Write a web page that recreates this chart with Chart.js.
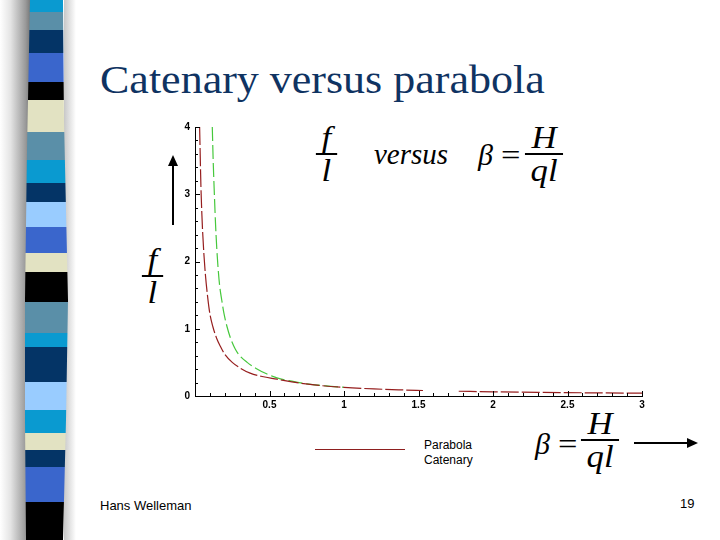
<!DOCTYPE html>
<html>
<head>
<meta charset="utf-8">
<script src="https://cdn.jsdelivr.net/npm/chart.js@4"></script>
<style>
  body { margin: 0; width: 720px; height: 540px; background: #fff; position: relative; overflow: hidden; }
  .abs { position: absolute; }
  #shadowL { left: 0; top: 0; width: 30px; height: 540px; background: linear-gradient(to right, #fff 0%, #e4e4e4 35%, #9a9a9a 85%, #7a7a7a 100%); }
  #shadowR { left: 64px; top: 0; width: 12px; height: 540px; background: linear-gradient(to right, #c8c8c8, #fff); }
  #stripe {
    left: 24px; top: 0; width: 46px; height: 540px;
    clip-path: polygon(6px 0, 39px 0, 40px 120px, 44px 300px, 42px 420px, 39px 540px, 2px 540px, 1px 420px, 1px 300px, 3px 150px);
    background: linear-gradient(to bottom,
      #0a9ad0 0 12px, #5a8fa8 12px 30px, #043466 30px 53px, #3a66cc 53px 82px, #000 82px 100px,
      #e2e2c2 100px 132px, #5a8fa8 132px 160px, #0a9ad0 160px 183px, #043466 183px 202px, #99ccff 202px 227px,
      #3a66cc 227px 253px, #e2e2c2 253px 272px, #000 272px 302px, #5a8fa8 302px 333px, #0a9ad0 333px 347px,
      #043466 347px 382px, #99ccff 382px 410px, #0a9ad0 410px 433px, #e2e2c2 433px 450px, #043466 450px 467px,
      #3a66cc 467px 502px, #000 502px 540px);
  }
  #title { left: 100px; top: 56px; font: 40px "Liberation Serif", serif; color: #0f3362; white-space: nowrap; transform: scaleX(1.1); transform-origin: 0 0; }
  .frac { position: absolute; display: flex; flex-direction: column; align-items: center; font: italic 31px "Liberation Serif", serif; color: #000; transform: scaleX(1.12); transform-origin: 50% 50%; }
  .frac span { line-height: 31px; height: 31px; padding: 0 5px; }
  .frac .bar { height: 1.5px; background: #000; align-self: stretch; }
  .txt { position: absolute; font: italic 30px "Liberation Serif", serif; white-space: nowrap; line-height: 31px; }
  .eq { position: absolute; font: 30px "Liberation Serif", serif; line-height: 31px; transform: scaleX(1.15); transform-origin: 0 50%; }
  #chartBox { left: 170px; top: 115px; }
  #legend { left: 315px; top: 438px; font: 12px "Liberation Sans", Arial, sans-serif; }
  #legendLine { position: absolute; left: 0; top: 11px; width: 90px; height: 1px; background: #8e1f1f; }
  #legendText { position: absolute; left: 109px; top: 0; line-height: 15px; white-space: nowrap; }
  #author { left: 100px; top: 498px; font: 13px "Liberation Sans", Arial, sans-serif; }
  #page { left: 680px; top: 496px; font: 13px "Liberation Sans", Arial, sans-serif; }
  .arrow { position: absolute; background: #000; }
</style>
</head>
<body>
<div id="shadowL" class="abs"></div>
<div id="shadowR" class="abs"></div>
<div id="stripe" class="abs"></div>
<div id="title" class="abs">Catenary versus parabola</div>

<!-- top formula -->
<div class="frac" style="left:317px; top:122px;"><span>f</span><div class="bar"></div><span>l</span></div>
<div class="txt" style="left:374px; top:139px; font-size:29px;">versus</div>
<div class="txt" style="left:478px; top:139px;">β</div>
<div class="eq" style="left:501px; top:139px;">=</div>
<div class="frac" style="left:527px; top:122px;"><span>H</span><div class="bar"></div><span>ql</span></div>

<!-- y label -->
<div class="frac" style="left:143px; top:244px;"><span>f</span><div class="bar"></div><span>l</span></div>
<div class="arrow" style="left:172px; top:166px; width:2px; height:59px;"></div>
<div class="abs" style="left:168px; top:155px; width:0; height:0; border-left:5px solid transparent; border-right:5px solid transparent; border-bottom:11px solid #000;"></div>

<!-- x label -->
<div class="txt" style="left:535px; top:428px;">β</div>
<div class="eq" style="left:558px; top:428px;">=</div>
<div class="frac" style="left:583px; top:408px;"><span>H</span><div class="bar"></div><span>ql</span></div>
<div class="arrow" style="left:634px; top:442px; width:55px; height:2px;"></div>
<div class="abs" style="left:687px; top:438px; width:0; height:0; border-top:5px solid transparent; border-bottom:5px solid transparent; border-left:11px solid #000;"></div>

<div id="chartBox" class="abs"><canvas id="chart" width="490" height="300"></canvas></div>

<div id="legend" class="abs"><div id="legendLine"></div><div id="legendText"></div></div>
<div id="author" class="abs">Hans Welleman</div>
<div id="page" class="abs">19</div>

<script>
// series names
const seriesNames = ['Parabola', 'Catenary'];

// parabola: beta = H/(ql) and f/l (null = gap in the plotted line)
const betaParabola = [0.031, 0.04, 0.05, 0.06, 0.07, 0.085, 0.1, 0.12, 0.145, 0.17, 0.2, 0.25, 0.3, 0.37, 0.45, 0.55, 0.65, 0.8, 1.0, 1.2, 1.4, 1.53, 1.65, 1.77, 2.0, 2.3, 2.6, 3.0];
const ratioParabola = [4.0, 3.1, 2.5, 2.1, 1.8, 1.47, 1.22, 1.03, 0.86, 0.74, 0.62, 0.5, 0.42, 0.34, 0.29, 0.25, 0.21, 0.165, 0.128, 0.105, 0.09, 0.082, null, 0.071, 0.062, 0.054, 0.048, 0.042];

// catenary
const betaCatenary = [0.116, 0.122, 0.13, 0.138, 0.146, 0.155, 0.165, 0.18, 0.195, 0.215, 0.24, 0.27, 0.3, 0.35, 0.41, 0.48, 0.55, 0.65, 0.75, 0.88, 1.0];
const ratioCatenary = [4.0, 3.5, 3.0, 2.55, 2.2, 1.9, 1.65, 1.42, 1.22, 1.03, 0.85, 0.7, 0.6, 0.5, 0.41, 0.33, 0.27, 0.22, 0.18, 0.15, 0.13];

// axis ranges
const xMin = 0, xMax = 3, xStep = 0.1;
const yMin = 0, yMax = 4, yStep = 0.2;

const toPoints = (xs, ys) => xs.map((x, i) => ({ x: x, y: ys[i] }));

document.getElementById('legendText').innerHTML = seriesNames.join('<br>');

// small tick marks drawn inside the plot, like the original
const innerTicks = {
  id: 'innerTicks',
  afterDraw(chart) {
    const { ctx, chartArea } = chart;
    const { x, y } = chart.scales;
    ctx.save();
    ctx.strokeStyle = '#000';
    ctx.lineWidth = 1;
    ctx.beginPath();
    x.ticks.forEach(t => {
      const px = Math.round(x.getPixelForValue(t.value)) + 0.5;
      ctx.moveTo(px, chartArea.bottom);
      ctx.lineTo(px, chartArea.bottom - (t.label ? 5 : 3));
    });
    y.ticks.forEach(t => {
      const py = Math.round(y.getPixelForValue(t.value)) + 0.5;
      ctx.moveTo(chartArea.left, py);
      ctx.lineTo(chartArea.left + (t.label ? 5 : 3), py);
    });
    ctx.stroke();
    ctx.restore();
  }
};

const tickFont = { family: 'Liberation Sans', size: 10, weight: 'bold' };

const cfg = {
  type: 'line',
  data: {
    datasets: [{
      label: seriesNames[0],
      data: toPoints(betaParabola, ratioParabola),
      borderColor: 'rgb(150, 30, 30)',
      borderWidth: 1.2,
      borderDash: [18, 3],
      pointRadius: 0,
      spanGaps: false,
      cubicInterpolationMode: 'monotone',
      fill: false
    }, {
      label: seriesNames[1],
      data: toPoints(betaCatenary, ratioCatenary),
      borderColor: 'rgb(70, 200, 60)',
      borderWidth: 1.2,
      borderDash: [14, 4],
      pointRadius: 0,
      cubicInterpolationMode: 'monotone',
      fill: false
    }]
  },
  options: {
    responsive: false,
    animation: false,
    layout: { padding: { top: 12, right: 18, left: 0, bottom: 0 } },
    plugins: { legend: { display: false }, tooltip: { enabled: false } },
    scales: {
      x: {
        type: 'linear',
        min: xMin, max: xMax,
        grid: { display: false, drawTicks: false },
        border: { display: true, color: '#000', width: 1 },
        ticks: {
          stepSize: xStep, autoSkip: false, maxRotation: 0, padding: 3,
          color: '#000', font: tickFont,
          callback: v => (v > 0 && Math.abs(v * 2 - Math.round(v * 2)) < 1e-6) ? String(Math.round(v * 10) / 10) : ''
        },
        afterFit: s => { s.height = 19; }
      },
      y: {
        type: 'linear',
        min: yMin, max: yMax,
        grid: { display: false, drawTicks: false },
        border: { display: true, color: '#000', width: 1 },
        ticks: {
          stepSize: yStep, autoSkip: false, padding: 5,
          color: '#000', font: tickFont,
          callback: v => Math.abs(v - Math.round(v)) < 1e-6 ? String(Math.round(v)) : ''
        },
        afterFit: s => { s.width = 25; }
      }
    }
  },
  plugins: [innerTicks]
};

new Chart(document.getElementById('chart'), cfg);
</script>
</body>
</html>
